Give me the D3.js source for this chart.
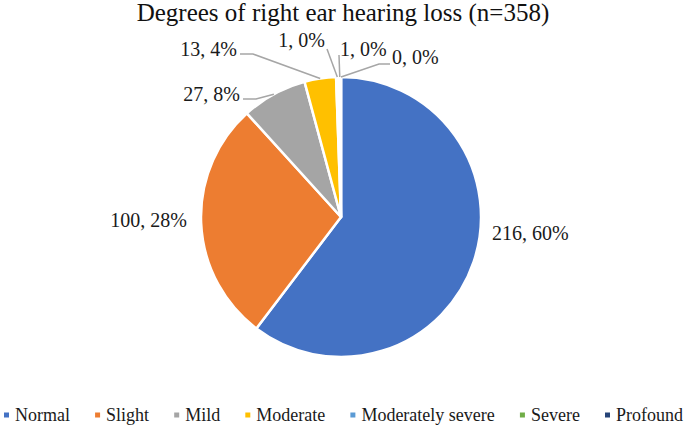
<!DOCTYPE html>
<html><head><meta charset="utf-8">
<script src="https://cdn.jsdelivr.net/npm/d3@7"></script>
<style>
body{margin:0;background:#fff}svg{display:block}
text{font-family:"Liberation Serif","Times New Roman",Times,"DejaVu Serif",serif;}
</style>
</head><body><svg id="c" width="685" height="435"></svg>
<script>
// ---- data ----
const title = "Degrees of right ear hearing loss (n=358)";
const categories = ["Normal","Slight","Mild","Moderate","Moderately severe","Severe","Profound"];
const counts = [216,100,27,13,1,1,0];
const colors = ["#4472C4","#ED7D31","#A5A5A5","#FFC000","#5B9BD5","#70AD47","#264478"];

// ---- layout (not data) ----
const W = 685, H = 435;
const cx = 341, cy = 217, R = 140;
// label anchor positions relative to pie centre
const labelLayout = [
  {x:151, y:23, a:"start"},
  {x:-154, y:10, a:"end"},
  {x:-101, y:-116, a:"end", leader:[[-85,-118],[-98,-118]]},
  {x:-104, y:-161, a:"end", leader:[[-88,-163],[-101,-163]]},
  {x:-16, y:-170, a:"end", leader:[[-14,-168]]},
  {x:-1, y:-161, a:"start", leader:[[-2,-162]]},
  {x:51, y:-153, a:"start", leader:[[38,-153],[49,-153]]}
];

const svg = d3.select("#c");
const total = d3.sum(counts);
const pct = d3.format(".0%");

svg.append("text")
  .attr("x", 343).attr("y", 21)
  .attr("text-anchor","middle")
  .style("font-size", "25px")
  .attr("fill","#111")
  .text(title);

const pie = d3.pie().sort(null).value(d => d.v);
const arcs = pie(counts.map((v,i) => ({v, i})));
const arc = d3.arc().innerRadius(0).outerRadius(R);
const outer = d3.arc().innerRadius(R).outerRadius(R);

const g = svg.append("g").attr("transform", `translate(${cx},${cy})`);
g.selectAll("path.slice").data(arcs).join("path")
  .attr("class","slice")
  .attr("d", arc)
  .attr("fill", d => colors[d.data.i])
  .attr("stroke", "#fff")
  .attr("stroke-width", 2.5)
  .attr("stroke-linejoin","round");

// leader lines
const line = d3.line();
arcs.forEach(d => {
  const L = labelLayout[d.data.i];
  if (!L.leader) return;
  const p0 = outer.centroid(d);
  const pts = [p0, ...L.leader];
  g.append("path")
    .attr("d", line(pts))
    .attr("fill","none")
    .attr("stroke","#A6A6A6")
    .attr("stroke-width",1.5);
});

g.selectAll("text.lbl").data(arcs).join("text")
  .attr("class","lbl")
  .attr("x", d => labelLayout[d.data.i].x)
  .attr("y", d => labelLayout[d.data.i].y)
  .attr("text-anchor", d => labelLayout[d.data.i].a)
  .style("font-size", "20px")
  .attr("fill","#1a1a1a")
  .text(d => `${d.data.v}, ${pct(d.data.v/total)}`);

// legend
const lg = svg.append("g");
const items = lg.selectAll("g").data(categories).join("g");
items.append("rect").attr("width",5).attr("height",5).attr("y",412.5)
  .attr("fill",(d,i)=>colors[i]);
items.append("text").attr("x",11).attr("y",421)
  .style("font-size", "18px").attr("fill","#1a1a1a")
  .text(d=>d);
const widths = [];
items.each(function(){ widths.push(11 + this.querySelector("text").getComputedTextLength()); });
const left = 4, right = 683;
const gap = (right - left - d3.sum(widths)) / (categories.length - 1);
let xx = left;
items.attr("transform", (d,i) => { const t = `translate(${xx},0)`; xx += widths[i] + gap; return t; });
</script>
</body></html>
